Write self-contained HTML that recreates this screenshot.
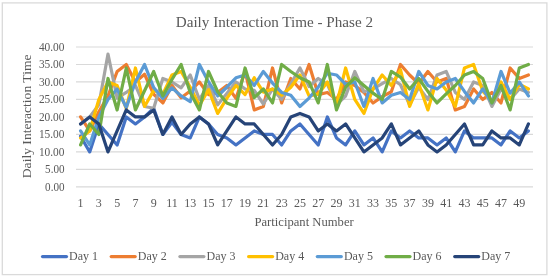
<!DOCTYPE html><html><head><meta charset="utf-8"><title>Daily Interaction Time - Phase 2</title>
<style>html,body{margin:0;padding:0;background:#fff}body{width:550px;height:279px;overflow:hidden}svg{display:block}text{font-family:"Liberation Serif","DejaVu Serif",serif;fill:#595959}</style></head><body>
<svg width="550" height="279" viewBox="0 0 550 279">
<rect x="0" y="0" width="550" height="279" fill="#fff"/>
<rect x="2.3" y="2.9" width="544.6" height="271.7" fill="#fff" stroke="#dadada" stroke-width="1.3"/>
<line x1="76.0" y1="47.00" x2="533.0" y2="47.00" stroke="#d9d9d9" stroke-width="1.2"/>
<line x1="76.0" y1="64.49" x2="533.0" y2="64.49" stroke="#d9d9d9" stroke-width="1.2"/>
<line x1="76.0" y1="81.97" x2="533.0" y2="81.97" stroke="#d9d9d9" stroke-width="1.2"/>
<line x1="76.0" y1="99.46" x2="533.0" y2="99.46" stroke="#d9d9d9" stroke-width="1.2"/>
<line x1="76.0" y1="116.95" x2="533.0" y2="116.95" stroke="#d9d9d9" stroke-width="1.2"/>
<line x1="76.0" y1="134.44" x2="533.0" y2="134.44" stroke="#d9d9d9" stroke-width="1.2"/>
<line x1="76.0" y1="151.93" x2="533.0" y2="151.93" stroke="#d9d9d9" stroke-width="1.2"/>
<line x1="76.0" y1="169.41" x2="533.0" y2="169.41" stroke="#d9d9d9" stroke-width="1.2"/>
<line x1="76.0" y1="186.90" x2="533.0" y2="186.90" stroke="#d9d9d9" stroke-width="1.2"/>
<text x="274.4" y="27.4" font-size="14.7" text-anchor="middle" textLength="197.3" lengthAdjust="spacingAndGlyphs">Daily Interaction Time - Phase 2</text>
<text x="64.5" y="51.00" font-size="12.3" text-anchor="end" textLength="25.6" lengthAdjust="spacingAndGlyphs">40.00</text>
<text x="64.5" y="68.49" font-size="12.3" text-anchor="end" textLength="25.6" lengthAdjust="spacingAndGlyphs">35.00</text>
<text x="64.5" y="85.97" font-size="12.3" text-anchor="end" textLength="25.6" lengthAdjust="spacingAndGlyphs">30.00</text>
<text x="64.5" y="103.46" font-size="12.3" text-anchor="end" textLength="25.6" lengthAdjust="spacingAndGlyphs">25.00</text>
<text x="64.5" y="120.95" font-size="12.3" text-anchor="end" textLength="25.6" lengthAdjust="spacingAndGlyphs">20.00</text>
<text x="64.5" y="138.44" font-size="12.3" text-anchor="end" textLength="25.6" lengthAdjust="spacingAndGlyphs">15.00</text>
<text x="64.5" y="155.93" font-size="12.3" text-anchor="end" textLength="25.6" lengthAdjust="spacingAndGlyphs">10.00</text>
<text x="64.5" y="173.41" font-size="12.3" text-anchor="end" textLength="19.4" lengthAdjust="spacingAndGlyphs">5.00</text>
<text x="64.5" y="190.90" font-size="12.3" text-anchor="end" textLength="19.4" lengthAdjust="spacingAndGlyphs">0.00</text>
<text x="80.57" y="207.3" font-size="12" text-anchor="middle">1</text>
<text x="98.85" y="207.3" font-size="12" text-anchor="middle">3</text>
<text x="117.13" y="207.3" font-size="12" text-anchor="middle">5</text>
<text x="135.41" y="207.3" font-size="12" text-anchor="middle">7</text>
<text x="153.69" y="207.3" font-size="12" text-anchor="middle">9</text>
<text x="171.97" y="207.3" font-size="12" text-anchor="middle">11</text>
<text x="190.25" y="207.3" font-size="12" text-anchor="middle">13</text>
<text x="208.53" y="207.3" font-size="12" text-anchor="middle">15</text>
<text x="226.81" y="207.3" font-size="12" text-anchor="middle">17</text>
<text x="245.09" y="207.3" font-size="12" text-anchor="middle">19</text>
<text x="263.37" y="207.3" font-size="12" text-anchor="middle">21</text>
<text x="281.65" y="207.3" font-size="12" text-anchor="middle">23</text>
<text x="299.93" y="207.3" font-size="12" text-anchor="middle">25</text>
<text x="318.21" y="207.3" font-size="12" text-anchor="middle">27</text>
<text x="336.49" y="207.3" font-size="12" text-anchor="middle">29</text>
<text x="354.77" y="207.3" font-size="12" text-anchor="middle">31</text>
<text x="373.05" y="207.3" font-size="12" text-anchor="middle">33</text>
<text x="391.33" y="207.3" font-size="12" text-anchor="middle">35</text>
<text x="409.61" y="207.3" font-size="12" text-anchor="middle">37</text>
<text x="427.89" y="207.3" font-size="12" text-anchor="middle">39</text>
<text x="446.17" y="207.3" font-size="12" text-anchor="middle">41</text>
<text x="464.45" y="207.3" font-size="12" text-anchor="middle">43</text>
<text x="482.73" y="207.3" font-size="12" text-anchor="middle">45</text>
<text x="501.01" y="207.3" font-size="12" text-anchor="middle">47</text>
<text x="519.29" y="207.3" font-size="12" text-anchor="middle">49</text>
<text x="304.1" y="226.3" font-size="13.33" text-anchor="middle" textLength="99.2" lengthAdjust="spacingAndGlyphs">Participant Number</text>
<text transform="translate(30.8,116.35) rotate(-90)" font-size="13.33" text-anchor="middle" textLength="123.7" lengthAdjust="spacingAndGlyphs">Daily Interaction Time</text>
<polyline points="80.57,136.19 89.71,151.93 98.85,123.94 107.99,134.44 117.13,144.93 126.27,116.95 135.41,123.94 144.55,116.95 153.69,108.21 162.83,134.44 171.97,122.20 181.11,134.44 190.25,137.94 199.39,116.95 208.53,123.94 217.67,134.44 226.81,137.94 235.95,144.93 245.09,137.94 254.23,130.94 263.37,134.44 272.51,134.44 281.65,144.93 290.79,130.94 299.93,123.94 309.07,134.44 318.21,144.93 327.35,116.95 336.49,137.94 345.63,144.93 354.77,130.94 363.91,144.93 373.05,137.94 382.19,151.93 391.33,130.94 400.47,137.94 409.61,130.94 418.75,137.94 427.89,137.94 437.03,144.93 446.17,137.94 455.31,151.93 464.45,130.94 473.59,137.94 482.73,137.94 491.87,137.94 501.01,144.93 510.15,130.94 519.29,137.94 528.43,130.94" fill="none" stroke="#4472C4" stroke-width="3.2" stroke-linejoin="round" stroke-linecap="round"/>
<polyline points="80.57,116.95 89.71,130.94 98.85,111.70 107.99,95.97 117.13,71.48 126.27,64.49 135.41,81.97 144.55,74.28 153.69,94.22 162.83,102.96 171.97,85.47 181.11,97.71 190.25,91.07 199.39,81.97 208.53,94.57 217.67,92.47 226.81,85.47 235.95,98.41 245.09,71.48 254.23,109.95 263.37,106.46 272.51,67.98 281.65,102.96 290.79,78.48 299.93,88.97 309.07,64.49 318.21,94.57 327.35,92.47 336.49,99.46 345.63,81.97 354.77,85.47 363.91,92.47 373.05,102.96 382.19,96.66 391.33,91.77 400.47,64.49 409.61,74.98 418.75,83.72 427.89,71.48 437.03,81.97 446.17,78.48 455.31,109.95 464.45,106.46 473.59,88.97 482.73,99.46 491.87,92.47 501.01,102.96 510.15,67.98 519.29,78.48 528.43,74.98" fill="none" stroke="#ED7D31" stroke-width="3.2" stroke-linejoin="round" stroke-linecap="round"/>
<polyline points="80.57,123.94 89.71,116.95 98.85,104.71 107.99,54.00 117.13,98.06 126.27,92.47 135.41,85.47 144.55,106.46 153.69,108.21 162.83,78.48 171.97,81.97 181.11,87.92 190.25,74.98 199.39,99.46 208.53,85.47 217.67,104.71 226.81,93.52 235.95,81.97 245.09,88.97 254.23,90.37 263.37,104.01 272.51,88.97 281.65,99.46 290.79,83.72 299.93,67.98 309.07,86.52 318.21,78.48 327.35,84.42 336.49,104.71 345.63,95.97 354.77,71.48 363.91,91.77 373.05,88.97 382.19,83.72 391.33,78.48 400.47,84.77 409.61,104.71 418.75,87.22 427.89,99.46 437.03,74.98 446.17,71.48 455.31,92.47 464.45,99.46 473.59,81.97 482.73,85.47 491.87,106.46 501.01,88.97 510.15,99.46 519.29,88.97 528.43,92.47" fill="none" stroke="#A5A5A5" stroke-width="3.2" stroke-linejoin="round" stroke-linecap="round"/>
<polyline points="80.57,137.94 89.71,130.94 98.85,99.46 107.99,81.97 117.13,85.47 126.27,108.56 135.41,67.98 144.55,106.46 153.69,90.37 162.83,94.22 171.97,74.98 181.11,71.48 190.25,87.22 199.39,105.41 208.53,89.67 217.67,113.45 226.81,98.41 235.95,85.47 245.09,94.57 254.23,77.78 263.37,92.12 272.51,88.97 281.65,95.27 290.79,87.22 299.93,74.98 309.07,95.97 318.21,94.22 327.35,81.97 336.49,104.71 345.63,67.98 354.77,99.46 363.91,113.45 373.05,88.97 382.19,74.98 391.33,85.47 400.47,69.73 409.61,106.46 418.75,83.72 427.89,109.95 437.03,78.48 446.17,90.02 455.31,106.46 464.45,67.98 473.59,64.49 482.73,91.07 491.87,101.21 501.01,81.97 510.15,99.46 519.29,84.07 528.43,88.97" fill="none" stroke="#FFC000" stroke-width="3.2" stroke-linejoin="round" stroke-linecap="round"/>
<polyline points="80.57,130.94 89.71,144.93 98.85,116.95 107.99,99.46 117.13,88.97 126.27,107.51 135.41,81.97 144.55,64.49 153.69,87.57 162.83,98.41 171.97,87.92 181.11,95.97 190.25,101.56 199.39,64.49 208.53,81.97 217.67,95.97 226.81,87.22 235.95,77.78 245.09,74.98 254.23,85.47 263.37,71.48 272.51,83.02 281.65,92.47 290.79,95.27 299.93,106.46 309.07,98.06 318.21,87.22 327.35,73.23 336.49,74.98 345.63,84.42 354.77,81.97 363.91,106.46 373.05,78.48 382.19,102.96 391.33,95.27 400.47,92.47 409.61,99.46 418.75,71.48 427.89,85.47 437.03,88.97 446.17,81.97 455.31,78.48 464.45,91.42 473.59,102.96 482.73,88.97 491.87,102.96 501.01,71.48 510.15,93.17 519.29,81.97 528.43,95.97" fill="none" stroke="#5B9BD5" stroke-width="3.2" stroke-linejoin="round" stroke-linecap="round"/>
<polyline points="80.57,144.93 89.71,123.94 98.85,134.44 107.99,78.48 117.13,109.95 126.27,67.98 135.41,109.95 144.55,90.72 153.69,71.48 162.83,95.97 171.97,79.53 181.11,64.49 190.25,92.47 199.39,109.95 208.53,71.48 217.67,91.77 226.81,102.96 235.95,106.46 245.09,67.98 254.23,97.71 263.37,88.97 272.51,102.96 281.65,64.49 290.79,71.48 299.93,77.78 309.07,81.97 318.21,102.96 327.35,64.49 336.49,109.95 345.63,87.22 354.77,77.78 363.91,85.47 373.05,93.17 382.19,99.46 391.33,71.48 400.47,77.08 409.61,88.97 418.75,78.48 427.89,91.42 437.03,102.96 446.17,93.87 455.31,85.47 464.45,74.98 473.59,71.48 482.73,78.48 491.87,102.96 501.01,85.47 510.15,109.95 519.29,67.98 528.43,64.49" fill="none" stroke="#70AD47" stroke-width="3.2" stroke-linejoin="round" stroke-linecap="round"/>
<polyline points="80.57,123.94 89.71,116.95 98.85,123.94 107.99,151.93 117.13,130.94 126.27,109.95 135.41,116.95 144.55,116.95 153.69,109.95 162.83,134.44 171.97,116.95 181.11,134.44 190.25,123.94 199.39,116.95 208.53,123.94 217.67,144.93 226.81,130.94 235.95,116.95 245.09,123.94 254.23,123.94 263.37,134.44 272.51,144.93 281.65,134.44 290.79,116.95 299.93,113.45 309.07,116.95 318.21,130.94 327.35,123.94 336.49,130.94 345.63,123.94 354.77,137.94 363.91,151.93 373.05,144.93 382.19,137.94 391.33,123.94 400.47,144.93 409.61,137.94 418.75,130.94 427.89,144.93 437.03,151.93 446.17,144.93 455.31,134.44 464.45,123.94 473.59,144.93 482.73,144.93 491.87,130.94 501.01,137.94 510.15,137.94 519.29,144.93 528.43,123.94" fill="none" stroke="#264478" stroke-width="3.2" stroke-linejoin="round" stroke-linecap="round"/>
<line x1="42.5" y1="256.6" x2="66.5" y2="256.6" stroke="#4472C4" stroke-width="3.2" stroke-linecap="round"/>
<text x="69.1" y="260" font-size="12.3" textLength="29" lengthAdjust="spacingAndGlyphs">Day 1</text>
<line x1="111.2" y1="256.6" x2="135.2" y2="256.6" stroke="#ED7D31" stroke-width="3.2" stroke-linecap="round"/>
<text x="137.8" y="260" font-size="12.3" textLength="29" lengthAdjust="spacingAndGlyphs">Day 2</text>
<line x1="179.9" y1="256.6" x2="203.9" y2="256.6" stroke="#A5A5A5" stroke-width="3.2" stroke-linecap="round"/>
<text x="206.5" y="260" font-size="12.3" textLength="29" lengthAdjust="spacingAndGlyphs">Day 3</text>
<line x1="248.6" y1="256.6" x2="272.6" y2="256.6" stroke="#FFC000" stroke-width="3.2" stroke-linecap="round"/>
<text x="275.2" y="260" font-size="12.3" textLength="29" lengthAdjust="spacingAndGlyphs">Day 4</text>
<line x1="317.3" y1="256.6" x2="341.3" y2="256.6" stroke="#5B9BD5" stroke-width="3.2" stroke-linecap="round"/>
<text x="343.9" y="260" font-size="12.3" textLength="29" lengthAdjust="spacingAndGlyphs">Day 5</text>
<line x1="386.0" y1="256.6" x2="410.0" y2="256.6" stroke="#70AD47" stroke-width="3.2" stroke-linecap="round"/>
<text x="412.6" y="260" font-size="12.3" textLength="29" lengthAdjust="spacingAndGlyphs">Day 6</text>
<line x1="454.7" y1="256.6" x2="478.7" y2="256.6" stroke="#264478" stroke-width="3.2" stroke-linecap="round"/>
<text x="481.3" y="260" font-size="12.3" textLength="29" lengthAdjust="spacingAndGlyphs">Day 7</text>
</svg></body></html>
